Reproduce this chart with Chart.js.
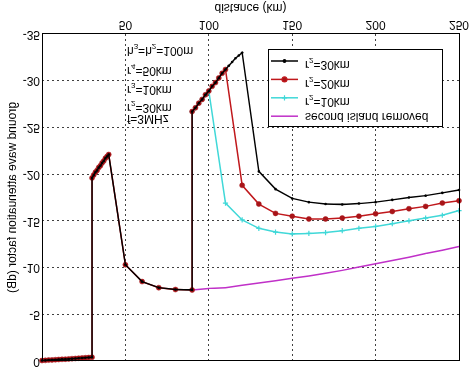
<!DOCTYPE html>
<html>
<head>
<meta charset="utf-8">
<script src="https://cdn.jsdelivr.net/npm/chart.js@4.4.1/dist/chart.umd.min.js"></script>
<style>
  html, body { margin: 0; padding: 0; background: #fff; }
  /* the source figure is printed upside down, so the whole canvas is flipped */
  #chart { display: block; transform: scaleY(-1); }
</style>
</head>
<body>
<canvas id="chart" width="474" height="372"></canvas>
<script>
const seriesLabels = ["r₂=30km", "r₂=20km", "r₂=10km", "second island removed"];

// path up to the second island, same for all curves
const commonKm = [0, 2, 4, 6, 8, 10, 12, 14, 16, 18, 20, 22, 24, 26, 28, 30,
  30, 31, 32, 33, 34, 35, 36, 37, 38, 39, 40, 50, 60, 70, 80, 90];
const commonDb = [-0.05, -0.07, -0.1, -0.12, -0.14, -0.16, -0.18, -0.2, -0.22, -0.25, -0.27, -0.3, -0.32, -0.35, -0.37, -0.4,
  -19.6, -19.9, -20.2, -20.4, -20.7, -20.9, -21.2, -21.4, -21.7, -21.9, -22.1, -10.3, -8.5, -7.85, -7.65, -7.6];

// second island, from 90 km
const island2Km = [90, 92, 94, 96, 98, 100, 102, 104, 106, 108, 110, 112, 114, 116, 118, 120];
const island2Db = [-26.7, -27.1, -27.6, -28.0, -28.5, -28.9, -29.4, -29.8, -30.3, -30.8, -31.2, -31.6, -32.0, -32.4, -32.7, -33.0];
const islandEnds = [120, 110, 100];

const tail30Km = [130, 140, 150, 160, 170, 180, 190, 200, 210, 220, 230, 240, 250];
const tail30Db = [-20.3, -18.4, -17.4, -17.0, -16.8, -16.75, -16.85, -17.0, -17.25, -17.5, -17.7, -18.0, -18.3];
const tail20Km = [120, 130, 140, 150, 160, 170, 180, 190, 200, 210, 220, 230, 240, 250];
const tail20Db = [-18.8, -16.8, -15.8, -15.5, -15.2, -15.2, -15.3, -15.5, -15.75, -16.0, -16.3, -16.55, -16.9, -17.15];
const tail10Km = [110, 120, 130, 140, 150, 160, 170, 180, 190, 200, 210, 220, 230, 240, 250];
const tail10Db = [-16.9, -15.1, -14.2, -13.8, -13.6, -13.65, -13.75, -13.95, -14.2, -14.4, -14.7, -15.0, -15.3, -15.6, -16.1];

const removedKm = [90, 100, 110, 120, 130, 140, 150, 160, 170, 180, 190, 200, 210, 220, 230, 240, 250];
const removedDb = [-7.6, -7.75, -7.85, -8.1, -8.35, -8.6, -8.85, -9.1, -9.4, -9.7, -10.05, -10.4, -10.75, -11.1, -11.5, -11.85, -12.25];

const notes = ["f=3MHz", "r₂=30km", "r₃=10km", "r₄=50km", "h₃=h₂=100m"];

const FONT = "'Liberation Sans', Arial, sans-serif";

function pts(km, db) {
  return km.map((x, i) => ({ x: x, y: db[i] }));
}
function island(end) {
  return pts(island2Km, island2Db).filter(p => p.x <= end);
}

const black = pts(commonKm, commonDb).concat(island(islandEnds[0]), pts(tail30Km, tail30Db));
const red = pts(commonKm, commonDb).concat(island(islandEnds[1]), pts(tail20Km, tail20Db));
const cyan = island(islandEnds[2]).concat(pts(tail10Km, tail10Db));
const magenta = pts(removedKm, removedDb);

const subDigits = "₀₁₂₃₄₅₆₇₈₉";
function drawSubText(ctx, text, x, y) {
  let cx = x;
  for (const ch of text) {
    const k = subDigits.indexOf(ch);
    if (k >= 0) {
      ctx.font = "8px " + FONT;
      ctx.fillText(String(k), cx, y + 3);
      cx += ctx.measureText(String(k)).width;
    } else {
      ctx.font = "12px " + FONT;
      ctx.fillText(ch, cx, y);
      cx += ctx.measureText(ch).width;
    }
  }
}

const figureText = {
  id: "figureText",
  afterDatasetsDraw(chart) {
    const ctx = chart.ctx;
    const a = chart.chartArea;
    ctx.save();
    ctx.strokeStyle = "#000";
    ctx.lineWidth = 1;
    ctx.strokeRect(a.left + 0.5, a.top + 0.5, a.right - a.left, a.bottom - a.top);

    // legend, bottom right inside the axes
    ctx.fillStyle = "#fff";
    ctx.fillRect(268.5, 245.5, 174, 77);
    ctx.strokeRect(268.5, 245.5, 174, 77);
    ctx.textBaseline = "alphabetic";
    ctx.textAlign = "left";
    chart.data.datasets.forEach((ds, i) => {
      const ly = 311 - i * 18.4;
      ctx.strokeStyle = ds.borderColor;
      ctx.lineWidth = 1.5;
      ctx.beginPath();
      ctx.moveTo(271, ly);
      ctx.lineTo(298, ly);
      ctx.stroke();
      if (ds.pointRadius > 0) {
        ctx.fillStyle = ds.pointBackgroundColor;
        ctx.strokeStyle = ds.borderColor;
        ctx.lineWidth = 1.2;
        Chart.helpers.drawPoint(ctx, { pointStyle: ds.pointStyle, radius: ds.pointRadius, rotation: 0, borderWidth: 1.2 }, 284.5, ly);
      }
      ctx.fillStyle = "#000";
      const hasSub = /[₀-₉]/.test(ds.label);
      drawSubText(ctx, ds.label, 305, hasSub ? ly - 0.5 : ly + 3.5);
    });

    // parameter notes
    const baselines = [256.5, 267.5, 286, 304.5, 324.5];
    ctx.fillStyle = "#000";
    notes.forEach((t, i) => drawSubText(ctx, t, 127, baselines[i]));
    ctx.restore();
  }
};

const tickFont = { family: FONT, size: 12 };

new Chart(document.getElementById("chart"), {
  type: "line",
  data: {
    datasets: [
      {
        label: seriesLabels[0],
        data: black,
        borderColor: "#000000",
        borderWidth: 1.4,
        pointStyle: "circle",
        pointRadius: 1.3,
        pointBackgroundColor: "#000000",
        pointBorderWidth: 0,
      },
      {
        label: seriesLabels[1],
        data: red,
        borderColor: "#c0181c",
        borderWidth: 1.5,
        pointStyle: "circle",
        pointRadius: 2.5,
        pointBackgroundColor: "#a81418",
        pointBorderColor: "#a81418",
        pointBorderWidth: 0.5,
      },
      {
        label: seriesLabels[2],
        data: cyan,
        borderColor: "#40d8d8",
        borderWidth: 1.5,
        pointStyle: "cross",
        pointRadius: 2.6,
        pointBackgroundColor: "#40d8d8",
        pointBorderColor: "#40d8d8",
        pointBorderWidth: 1.2,
      },
      {
        label: seriesLabels[3],
        data: magenta,
        borderColor: "#c030c8",
        borderWidth: 1.5,
        pointRadius: 0,
        pointBackgroundColor: "#c030c8",
      },
    ],
  },
  options: {
    responsive: false,
    animation: false,
    clip: 4,
    layout: { padding: { left: 0, top: 11, right: 15, bottom: 0 } },
    elements: { line: { tension: 0 } },
    plugins: {
      legend: { display: false },
      tooltip: { enabled: false },
    },
    scales: {
      x: {
        type: "linear",
        min: 0,
        max: 250,
        afterFit: function (s) { s.height = 34; },
        ticks: {
          stepSize: 50,
          color: "#000",
          font: tickFont,
          padding: 2,
          maxRotation: 0,
          callback: (v) => (v === 0 ? "" : v),
        },
        grid: { color: "rgba(0,0,0,0.75)", drawTicks: false, lineWidth: 1 },
        border: { display: false, dash: [2, 3] },
        title: {
          display: true,
          text: "distance (km)",
          color: "#000",
          font: tickFont,
          padding: { top: 0, bottom: 0 },
        },
      },
      y: {
        min: -35,
        max: 0,
        afterFit: function (s) { s.width = 42; },
        ticks: { stepSize: 5, color: "#000", font: tickFont, padding: 2 },
        grid: { color: "rgba(0,0,0,0.75)", drawTicks: false, lineWidth: 1 },
        border: { display: false, dash: [2, 3] },
        title: {
          display: true,
          text: "ground wave attenuation factor (dB)",
          color: "#000",
          font: tickFont,
          padding: { top: 5, bottom: 0 },
        },
      },
    },
  },
  plugins: [figureText],
});
</script>
</body>
</html>
